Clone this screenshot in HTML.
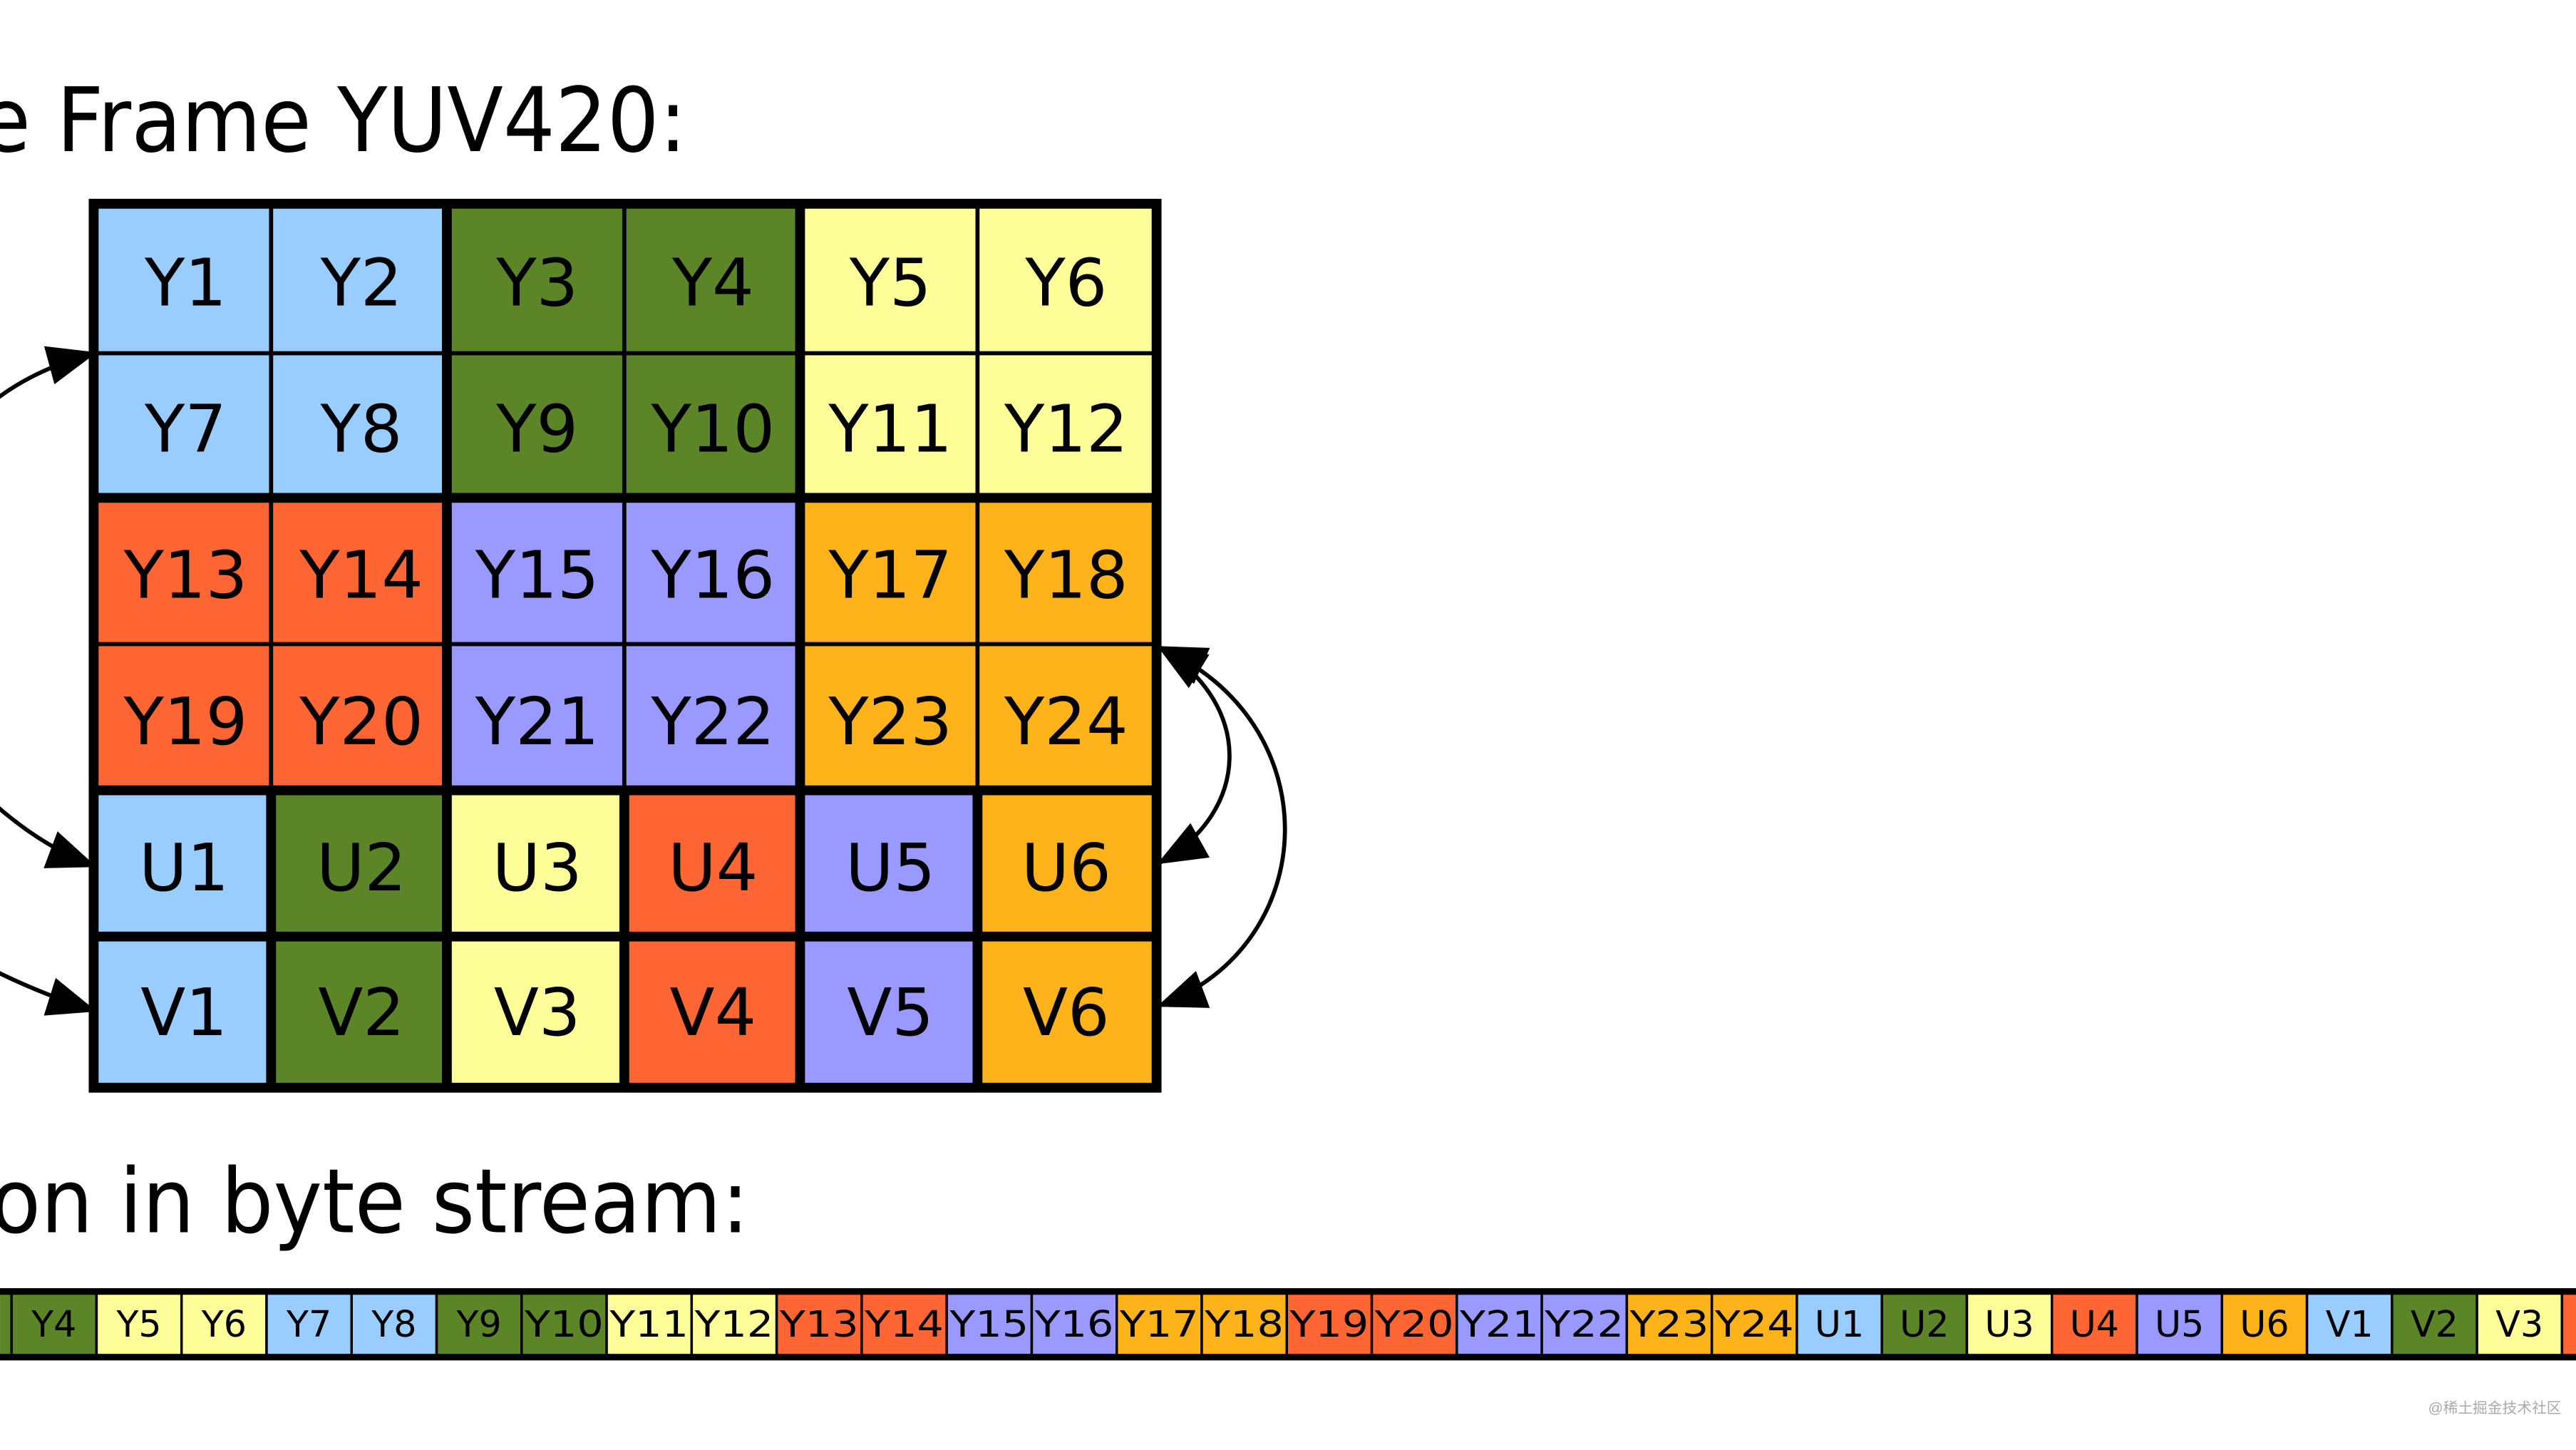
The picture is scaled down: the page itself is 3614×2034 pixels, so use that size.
<!DOCTYPE html>
<html><head><meta charset="utf-8"><style>
html,body{margin:0;padding:0;background:#fff;}
svg{display:block;}
text{font-family:"DejaVu Sans","Liberation Sans",sans-serif;fill:#000;}
</style></head><body>
<svg width="3614" height="2034" viewBox="0 0 1568 882.5" xmlns="http://www.w3.org/2000/svg">
<defs>
<marker id="ah" markerUnits="userSpaceOnUse" markerWidth="30" markerHeight="24" refX="28" refY="12" orient="auto-start-reverse">
<path d="M0,0 L30,12 L0,24 Z" fill="#000"/>
</marker>
</defs>
<rect width="1568" height="882.5" fill="#fff"/>
<text x="-12" y="92" font-size="54" textLength="430" lengthAdjust="spacingAndGlyphs">e Frame YUV420:</text>
<text x="-6" y="750" font-size="54" textLength="462" lengthAdjust="spacingAndGlyphs">on in byte stream:</text>

<g>
<rect x="57" y="124" width="215" height="179" fill="#99ccff"/>
<rect x="272" y="124" width="215" height="179" fill="#5b8526"/>
<rect x="487" y="124" width="217" height="179" fill="#ffff99"/>
<rect x="57" y="303" width="215" height="178" fill="#ff6633"/>
<rect x="272" y="303" width="215" height="178" fill="#9999ff"/>
<rect x="487" y="303" width="217" height="178" fill="#ffb31a"/>
</g>
<g>
<rect x="57" y="481" width="108" height="181" fill="#99ccff"/>
<rect x="165" y="481" width="107" height="181" fill="#5b8526"/>
<rect x="272" y="481" width="108" height="181" fill="#ffff99"/>
<rect x="380" y="481" width="107" height="181" fill="#ff6633"/>
<rect x="487" y="481" width="108" height="181" fill="#9999ff"/>
<rect x="595" y="481" width="109" height="181" fill="#ffb31a"/>
</g>
<g stroke="#000" fill="none">
<line x1="165" y1="124" x2="165" y2="481" stroke-width="2.5"/>
<line x1="380" y1="124" x2="380" y2="481" stroke-width="2.5"/>
<line x1="595" y1="124" x2="595" y2="481" stroke-width="2.5"/>
<line x1="57" y1="215" x2="704" y2="215" stroke-width="2.5"/>
<line x1="57" y1="392" x2="704" y2="392" stroke-width="2.5"/>
<line x1="272" y1="124" x2="272" y2="662" stroke-width="6"/>
<line x1="487" y1="124" x2="487" y2="662" stroke-width="6"/>
<line x1="165" y1="481" x2="165" y2="662" stroke-width="6"/>
<line x1="380" y1="481" x2="380" y2="662" stroke-width="6"/>
<line x1="595" y1="481" x2="595" y2="662" stroke-width="6"/>
<line x1="57" y1="303" x2="704" y2="303" stroke-width="6"/>
<line x1="57" y1="481" x2="704" y2="481" stroke-width="6"/>
<line x1="57" y1="570" x2="704" y2="570" stroke-width="6"/>
<rect x="57" y="124" width="647" height="538" stroke-width="6"/>
</g>
<g font-size="40" text-anchor="middle" dominant-baseline="central">
<text x="113" y="172">Y1</text><text x="220" y="172">Y2</text><text x="327" y="172">Y3</text><text x="434" y="172">Y4</text><text x="542" y="172">Y5</text><text x="649" y="172">Y6</text>
<text x="113" y="261">Y7</text><text x="220" y="261">Y8</text><text x="327" y="261">Y9</text><text x="434" y="261">Y10</text><text x="542" y="261">Y11</text><text x="649" y="261">Y12</text>
<text x="113" y="350">Y13</text><text x="220" y="350">Y14</text><text x="327" y="350">Y15</text><text x="434" y="350">Y16</text><text x="542" y="350">Y17</text><text x="649" y="350">Y18</text>
<text x="113" y="439">Y19</text><text x="220" y="439">Y20</text><text x="327" y="439">Y21</text><text x="434" y="439">Y22</text><text x="542" y="439">Y23</text><text x="649" y="439">Y24</text>
<text x="112" y="528">U1</text><text x="220" y="528">U2</text><text x="327" y="528">U3</text><text x="434" y="528">U4</text><text x="542" y="528">U5</text><text x="649" y="528">U6</text>
<text x="112" y="616">V1</text><text x="220" y="616">V2</text><text x="327" y="616">V3</text><text x="434" y="616">V4</text><text x="542" y="616">V5</text><text x="649" y="616">V6</text>
</g>
<g stroke="#000" stroke-width="2.5" fill="none">
<path d="M -5,245 Q 20,225 57,215" marker-end="url(#ah)"/>
<path d="M -5,488 Q 25,515 57,527" marker-end="url(#ah)"/>
<path d="M -5,590 Q 25,605 57,615" marker-end="url(#ah)"/>
<path d="M 706,394 C 765,430 760,495 706,525" marker-start="url(#ah)" marker-end="url(#ah)"/>
<path d="M 706,394 C 810,440 805,575 706,612" marker-start="url(#ah)" marker-end="url(#ah)"/>
</g>
<g id="strip">
<rect x="0" y="785" width="7" height="42" fill="#5b8526"/>
</g>
<script>
(function(){
var B="#99ccff",G="#5b8526",Y="#ffff99",R="#ff6633",P="#9999ff",O="#ffb31a";
var items=[["Y4",G],["Y5",Y],["Y6",Y],["Y7",B],["Y8",B],["Y9",G],["Y10",G],["Y11",Y],["Y12",Y],
["Y13",R],["Y14",R],["Y15",P],["Y16",P],["Y17",O],["Y18",O],["Y19",R],["Y20",R],["Y21",P],["Y22",P],["Y23",O],["Y24",O],
["U1",B],["U2",G],["U3",Y],["U4",R],["U5",P],["U6",O],["V1",B],["V2",G],["V3",Y],["",R]];
var g=document.getElementById("strip"),ns="http://www.w3.org/2000/svg",p=51.75;
items.forEach(function(it,i){
var x=7+i*p;
var r=document.createElementNS(ns,"rect");
r.setAttribute("x",x);r.setAttribute("y",785);r.setAttribute("width",p);r.setAttribute("height",42);
r.setAttribute("fill",it[1]);r.setAttribute("stroke","#000");r.setAttribute("stroke-width","1.5");
g.appendChild(r);
if(it[0]){var t=document.createElementNS(ns,"text");
t.setAttribute("x",x+p/2);t.setAttribute("y",806);t.setAttribute("font-size","22");
t.setAttribute("text-anchor","middle");t.setAttribute("dominant-baseline","central");
if(it[0].length>2){t.setAttribute("textLength","48");t.setAttribute("lengthAdjust","spacingAndGlyphs");}
t.textContent=it[0];g.appendChild(t);}
});
})();
</script>
<line x1="0" y1="786" x2="1568" y2="786" stroke="#000" stroke-width="4"/>
<line x1="0" y1="826" x2="1568" y2="826" stroke="#000" stroke-width="4"/>
<text x="1478" y="860" font-size="9" style="fill:#aaa;font-family:'Liberation Sans','Noto Sans CJK SC',sans-serif">@稀土掘金技术社区</text>
</svg>
</body></html>
